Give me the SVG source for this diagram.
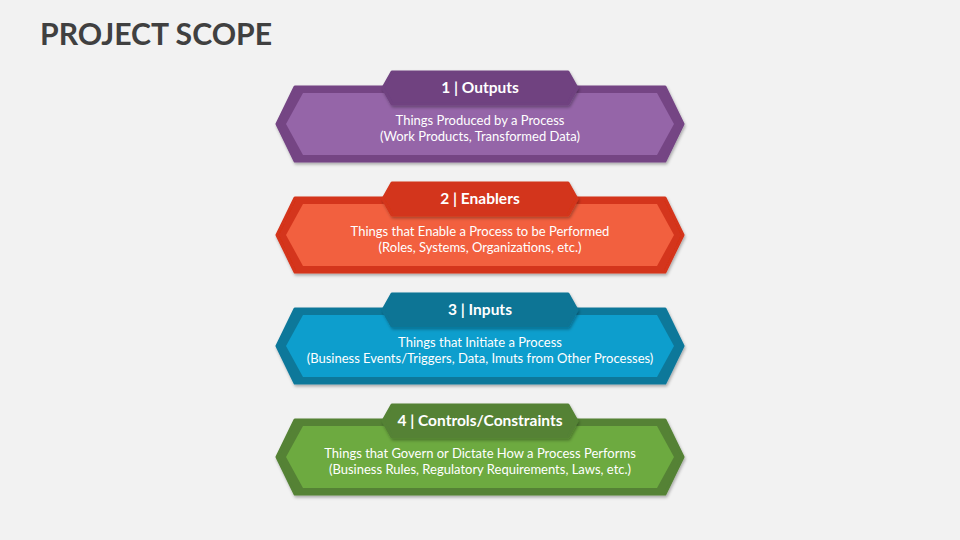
<svg xmlns="http://www.w3.org/2000/svg" width="960" height="540" viewBox="0 0 960 540">
<defs>
<filter id="sh" x="-10%" y="-20%" width="120%" height="150%">
<feDropShadow dx="1" dy="2" stdDeviation="1.5" flood-color="#000" flood-opacity="0.3"/>
</filter>
<path id="outer" d="M295,87 L665,87 L683,124 L665,161 L295,161 L277,124 Z"/>
<path id="inner" d="M303,93 L657,93 L674,124 L657,155 L303,155 L286,124 Z"/>
<path id="tab" d="M392,72 L568,72 L577,88 L568,104 L392,104 L383,88 Z"/>
</defs>
<style>
.o{stroke-linejoin:round;stroke-width:3}
.t{font-family:Lato,"Open Sans",sans-serif;fill:#fff;text-anchor:middle}
.h{font-weight:bold;font-size:15.5px}
.b{font-size:13px}
</style>
<rect width="960" height="540" fill="#F2F2F2"/>
<text x="40" y="45" font-family="Lato,'Open Sans',sans-serif" font-weight="bold" font-size="30.2" fill="#404040">PROJECT SCOPE</text>
<g id="node1">
<use href="#outer" class="o" fill="#744584" stroke="#744584" filter="url(#sh)"/>
<use href="#inner" fill="#9565A8"/>
<use href="#tab" class="o" fill="#6F4280" stroke="#6F4280" filter="url(#sh)"/>
<text class="t h" x="480" y="93">1 | Outputs</text>
<text class="t b" x="480" y="125">Things Produced by a Process</text>
<text class="t b" x="480" y="141">(Work Products, Transformed Data)</text>
</g>
<g id="node2" transform="translate(0,111)">
<use href="#outer" class="o" fill="#D4341A" stroke="#D4341A" filter="url(#sh)"/>
<use href="#inner" fill="#F2603F"/>
<use href="#tab" class="o" fill="#D3361A" stroke="#D3361A" filter="url(#sh)"/>
<text class="t h" x="480" y="93">2 | Enablers</text>
<text class="t b" x="480" y="125">Things that Enable a Process to be Performed</text>
<text class="t b" x="480" y="141">(Roles, Systems, Organizations, etc.)</text>
</g>
<g id="node3" transform="translate(0,222)">
<use href="#outer" class="o" fill="#0E789A" stroke="#0E789A" filter="url(#sh)"/>
<use href="#inner" fill="#0D9ECD"/>
<use href="#tab" class="o" fill="#0C7495" stroke="#0C7495" filter="url(#sh)"/>
<text class="t h" x="480" y="93">3 | Inputs</text>
<text class="t b" x="480" y="125">Things that Initiate a Process</text>
<text class="t b" x="480" y="141">(Business Events/Triggers, Data, Imuts from Other Processes)</text>
</g>
<g id="node4" transform="translate(0,333)">
<use href="#outer" class="o" fill="#548235" stroke="#548235" filter="url(#sh)"/>
<use href="#inner" fill="#6DAA40"/>
<use href="#tab" class="o" fill="#548235" stroke="#548235" filter="url(#sh)"/>
<text class="t h" x="480" y="93">4 | Controls/Constraints</text>
<text class="t b" x="480" y="125">Things that Govern or Dictate How a Process Performs</text>
<text class="t b" x="480" y="141">(Business Rules, Regulatory Requirements, Laws, etc.)</text>
</g>
<g id="connectors"/>
</svg>
